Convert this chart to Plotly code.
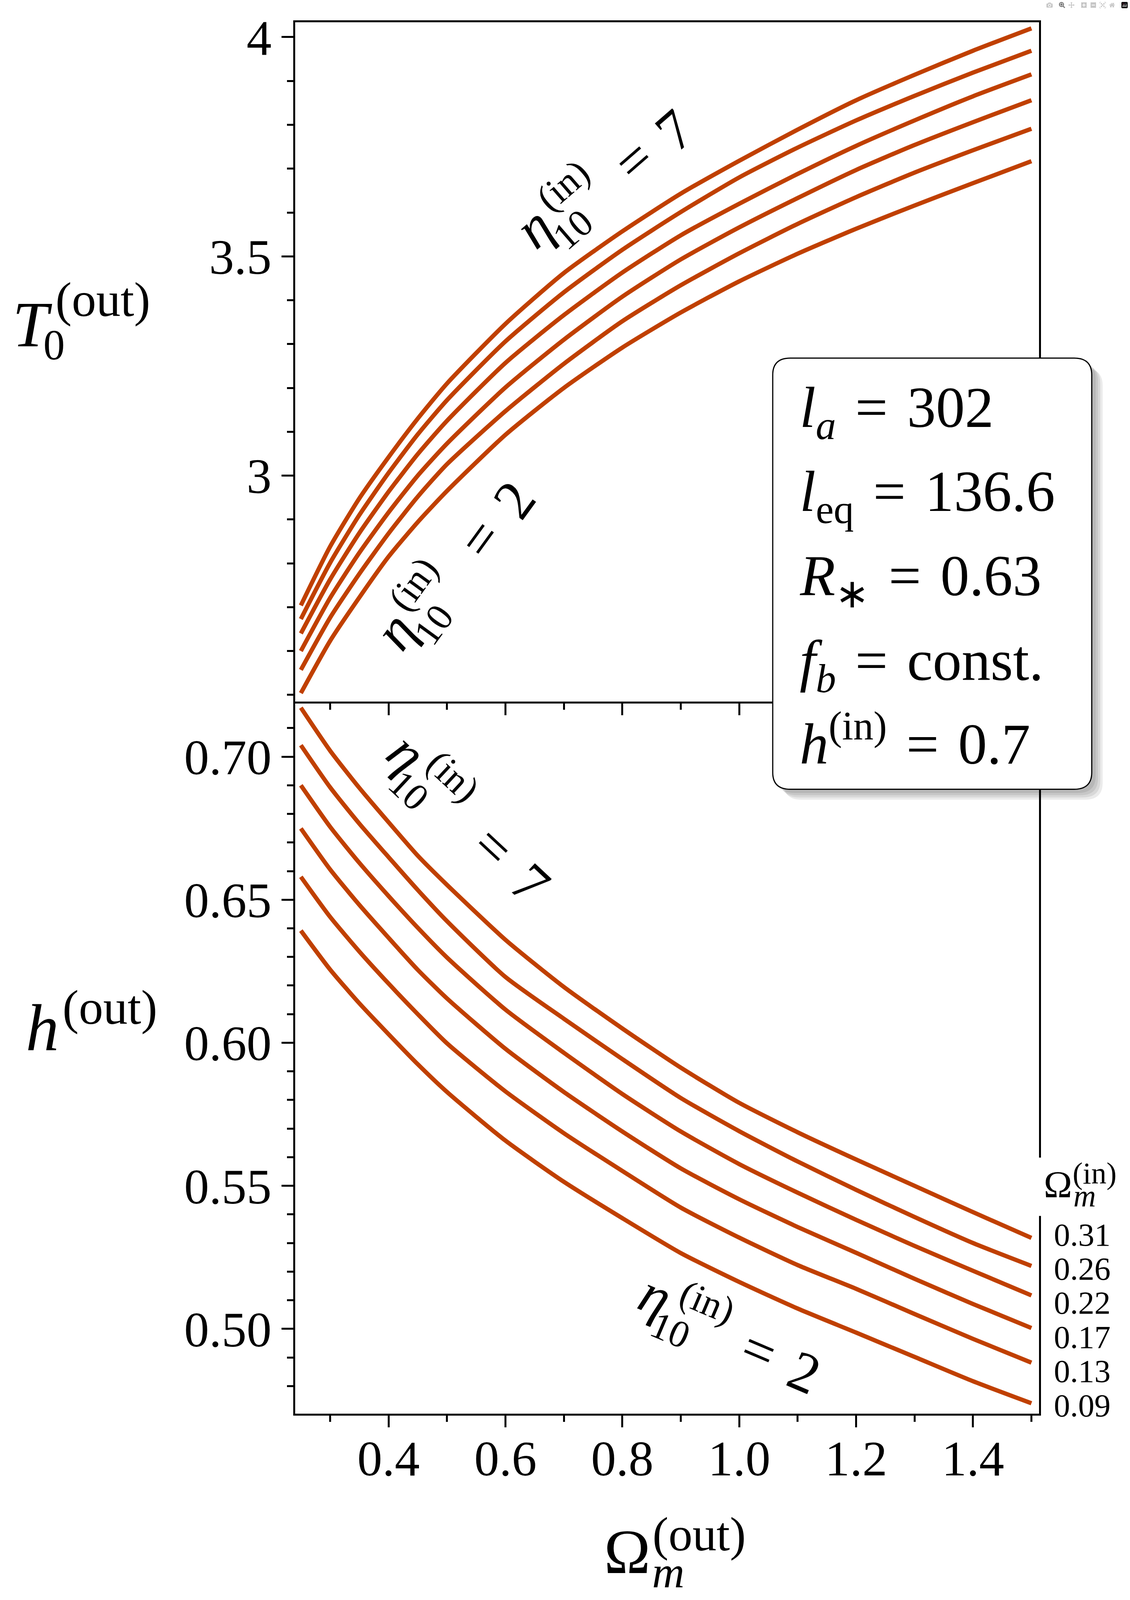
import math
import plotly.graph_objects as go

W, H = 2894, 4250
FONT = "Liberation Serif"
LINE_COLOR = "#C04000"

# Omega_m^(out) sample points (x axis of both panels)
omega_out = [0.25, 0.30, 0.35, 0.40, 0.45, 0.50, 0.60, 0.70,
             0.80, 0.90, 1.00, 1.10, 1.20, 1.30, 1.40, 1.50]

# curve parameters: eta_10^(in) and matching Omega_m^(in)
eta_in = [2, 3, 4, 5, 6, 7]
omega_in = ["0.09", "0.13", "0.17", "0.22", "0.26", "0.31"]

# top panel: T_0^(out)
T0_eta2 = [2.504, 2.623, 2.722, 2.815, 2.894, 2.965, 3.093, 3.200,
           3.292, 3.372, 3.443, 3.506, 3.563, 3.616, 3.667, 3.717]
T0_eta3 = [2.557, 2.676, 2.776, 2.868, 2.952, 3.026, 3.147, 3.255,
           3.352, 3.434, 3.507, 3.574, 3.635, 3.691, 3.742, 3.791]
T0_eta4 = [2.600, 2.721, 2.824, 2.916, 3.000, 3.073, 3.201, 3.310,
           3.408, 3.493, 3.566, 3.633, 3.697, 3.754, 3.806, 3.856]
T0_eta5 = [2.640, 2.763, 2.869, 2.963, 3.049, 3.125, 3.257, 3.366,
           3.463, 3.548, 3.620, 3.688, 3.752, 3.810, 3.865, 3.915]
T0_eta6 = [2.673, 2.801, 2.910, 3.006, 3.094, 3.172, 3.306, 3.418,
           3.515, 3.601, 3.680, 3.748, 3.810, 3.866, 3.919, 3.969]
T0_eta7 = [2.704, 2.838, 2.948, 3.042, 3.130, 3.210, 3.346, 3.462,
           3.557, 3.643, 3.718, 3.789, 3.856, 3.914, 3.969, 4.020]

# bottom panel: h^(out)
h_eta2 = [0.6392, 0.6256, 0.6138, 0.6030, 0.5925, 0.5828, 0.5658, 0.5514,
          0.5387, 0.5265, 0.5164, 0.5071, 0.4987, 0.4902, 0.4817, 0.4740]
h_eta3 = [0.6580, 0.6440, 0.6319, 0.6207, 0.6100, 0.5998, 0.5830, 0.5684,
          0.5552, 0.5424, 0.5319, 0.5223, 0.5140, 0.5052, 0.4965, 0.4882]
h_eta4 = [0.6749, 0.6606, 0.6482, 0.6367, 0.6255, 0.6155, 0.5979, 0.5828,
          0.5690, 0.5561, 0.5453, 0.5356, 0.5266, 0.5175, 0.5087, 0.5003]
h_eta5 = [0.6900, 0.6755, 0.6629, 0.6513, 0.6402, 0.6298, 0.6116, 0.5965,
          0.5821, 0.5690, 0.5576, 0.5476, 0.5381, 0.5290, 0.5203, 0.5117]
h_eta6 = [0.7040, 0.6893, 0.6766, 0.6649, 0.6534, 0.6425, 0.6230, 0.6084,
          0.5943, 0.5807, 0.5691, 0.5585, 0.5486, 0.5391, 0.5300, 0.5220]
h_eta7 = [0.7171, 0.7021, 0.6891, 0.6771, 0.6654, 0.6552, 0.6360, 0.6195,
          0.6050, 0.5913, 0.5790, 0.5687, 0.5592, 0.5500, 0.5408, 0.5318]

T0_curves = [T0_eta2, T0_eta3, T0_eta4, T0_eta5, T0_eta6, T0_eta7]
h_curves = [h_eta2, h_eta3, h_eta4, h_eta5, h_eta6, h_eta7]

# parameter box lines
SP = "\u2004"
box_lines = ["<i>l</i><sub><i>a</i></sub>" + SP + "=" + SP + "302",
             "<i>l</i><sub>eq</sub>" + SP + "=" + SP + "136.6",
             "<i>R</i><sub>∗</sub>" + SP + "=" + SP + "0.63",
             "<i>f</i><sub><i>b</i></sub>" + SP + "=" + SP + "const.",
             "<i>h</i><sup>(in)</sup>" + SP + "=" + SP + "0.7"]

fig = go.Figure()

for eta, om, ys in zip(eta_in, omega_in, T0_curves):
    fig.add_trace(go.Scatter(x=omega_out, y=ys, mode="lines", xaxis="x", yaxis="y",
                             line=dict(color=LINE_COLOR, width=11, shape="spline", smoothing=0.6),
                             name="eta=%d, Om_in=%s" % (eta, om), showlegend=False))
for eta, om, ys in zip(eta_in, omega_in, h_curves):
    fig.add_trace(go.Scatter(x=omega_out, y=ys, mode="lines", xaxis="x2", yaxis="y2",
                             line=dict(color=LINE_COLOR, width=11, shape="spline", smoothing=0.6),
                             name="eta=%d, Om_in=%s" % (eta, om), showlegend=False))

tickfont = dict(family=FONT, size=128, color="black")
frame = dict(showline=True, linecolor="black", linewidth=5,
             ticks="outside", tickcolor="black", tickwidth=5, ticklen=30,
             showgrid=False, zeroline=False, tickfont=tickfont,
             ticklabeloverflow="allow")
minor = dict(ticks="outside", ticklen=16, tickwidth=5, tickcolor="black", showgrid=False)

x_dom = [756 / W, 2661 / W]
split = 1 - 1845 / H

fig.update_layout(
    autosize=True,
    margin=dict(l=0, r=0, t=0, b=0),
    paper_bgcolor="white", plot_bgcolor="white",
    showlegend=False,
    xaxis=dict(frame, domain=x_dom, anchor="y", range=[0.2403, 1.513], mirror=True,
               tick0=0, dtick=0.2, showticklabels=False,
               minor=dict(minor, tick0=0, dtick=0.1)),
    yaxis=dict(frame, domain=[split, 1 - 27 / H], anchor="x", range=[2.485, 4.034],
               mirror=True, tickvals=[3, 3.5, 4], ticktext=["3", "3.5", "4"],
               ticklabelstandoff=0,
               minor=dict(minor, tick0=0, dtick=0.1)),
    xaxis2=dict(frame, domain=x_dom, anchor="y2", range=[0.2403, 1.513], mirror=False,
                tick0=0, dtick=0.2, tickformat=".1f", ticklabelstandoff=-30,
                minor=dict(minor, tick0=0, dtick=0.1)),
    yaxis2=dict(frame, domain=[1 - 3751 / H, split], anchor="x2", range=[0.4704, 0.7193],
                mirror=True, tick0=0, dtick=0.05, tickformat=".2f", ticklabelstandoff=0,
                minor=dict(minor, tick0=0, dtick=0.01)),
)


def to_paper(x, y):
    return x / W, 1 - y / H


def label(x, y, text, size, angle=0, xanchor="center"):
    xp, yp = to_paper(x, y)
    fig.add_annotation(x=xp, y=yp, xref="paper", yref="paper", text=text,
                       showarrow=False, textangle=angle, xanchor=xanchor, yanchor="middle",
                       font=dict(family=FONT, size=size, color="black"))


def rounded_path(x0, y0, x1, y1, r):
    def p(x, y):
        xp, yp = to_paper(x, y)
        return "%.5f,%.5f" % (xp, yp)

    pts = ["M" + p(x0 + r, y0),
           "L" + p(x1 - r, y0),
           "Q" + p(x1, y0) + " " + p(x1, y0 + r),
           "L" + p(x1, y1 - r),
           "Q" + p(x1, y1) + " " + p(x1 - r, y1),
           "L" + p(x0 + r, y1),
           "Q" + p(x0, y1) + " " + p(x0, y1 - r),
           "L" + p(x0, y0 + r),
           "Q" + p(x0, y0) + " " + p(x0 + r, y0)]
    return " ".join(pts) + " Z"


# parameter box with soft shadow
bx0, by0, bx1, by1 = 1979, 926, 2796, 2080
for k in [28, 22, 16, 10]:
    fig.add_shape(type="path", xref="paper", yref="paper", layer="above",
                  path=rounded_path(bx0 + k, by0 + k, bx1 + k, by1 + k, 45),
                  fillcolor="rgba(0,0,0,0.08)", line=dict(width=0))
fig.add_shape(type="path", xref="paper", yref="paper", layer="above",
              path=rounded_path(bx0, by0, bx1, by1, 45),
              fillcolor="white", line=dict(color="black", width=3))

box_y = [1069, 1294, 1520, 1747, 1948]
for txt, yy in zip(box_lines, box_y):
    label(2046, yy, txt, 148, xanchor="left")

# white patch where the Omega_m^(in) heading sits over the right frame
x0p, y0p = to_paper(2648, 3066)
x1p, y1p = to_paper(2674, 3222)
fig.add_shape(type="rect", xref="paper", yref="paper", layer="above",
              x0=x0p, x1=x1p, y0=y1p, y1=y0p, fillcolor="white", line=dict(width=0))

# right hand key: Omega_m^(in) per curve
label(2709, 3138, "Ω", 98)
label(2803, 3108, "(in)", 78)
label(2778, 3168, "<i>m</i>", 80)
for k, om in enumerate(reversed(omega_in)):
    label(2771, 3272 + k * 91.4, om, 83)


# rotated eta labels, pieces placed along the text direction
def eta_label(cx, cy, angle, value, u_eq, u_num):
    a = math.radians(angle)
    pieces = [(0, 32, "<i>η</i>", 145),
              (72, -38, "10", 98),
              (130, 68, "(in)", 98),
              (u_eq, 0, "=", 145),
              (u_num, -8, str(value), 145)]
    for u, v, txt, size in pieces:
        x = cx + u * math.cos(a) + v * math.sin(a)
        y = cy + u * math.sin(a) - v * math.cos(a)
        label(x, y, txt, size, angle=angle)


eta_label(1388, 600, -41, eta_in[-1], 311, 443)
eta_label(1037, 1675, -54, eta_in[0], 328, 464)
eta_label(1020, 2006, 43, eta_in[-1], 333, 470)
eta_label(1666, 3464, 23, eta_in[0], 302, 432)

# axis titles built from pieces (stacked sub/superscripts)
label(83, 836, "<i>T</i>", 165)
label(263, 770, "(out)", 125)
label(138, 891, "0", 110)

label(109, 2718, "<i>h</i>", 170)
label(281, 2664, "(out)", 125)

label(1606, 4121, "Ω", 160)
label(1790, 4074, "(out)", 123)
label(1712, 4175, "<i>m</i>", 115)

fig.write_html("out.html", default_width="100%", default_height="100vh",
               post_script="document.body.style.margin='0';"
                           "document.body.style.overflow='hidden';"
                           "Plotly.Plots.resize(document.getElementById('{plot_id}'));")
